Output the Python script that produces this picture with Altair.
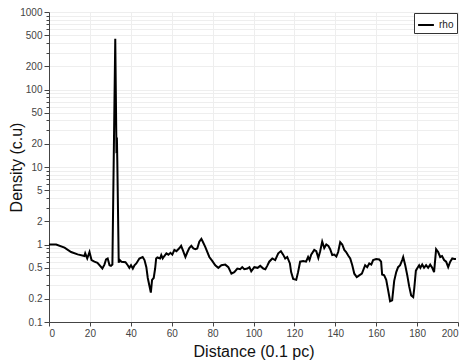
import altair as alt
import pandas as pd

dist = [0, 3.5, 7.6, 10.8, 14.0, 17.3, 17.7, 18.7, 19.8, 20.8, 22.2, 23.7, 26.1, 27.1, 27.9, 28.7,
        29.6, 30.3, 31.0, 32.4, 33.0, 33.2, 33.4, 34.1, 34.4, 35.4, 37.4, 38.5, 39.3, 40.1, 41.0,
        41.8, 42.7, 44.2, 45.8, 46.7, 47.6, 48.3, 49.8, 50.4, 51.2, 51.9, 52.4, 53.0, 54.3,
        54.9, 55.6, 56.4, 57.4, 58.4, 59.4, 60.3, 61.3, 62.3, 63.8, 64.6, 65.4, 66.7, 67.7,
        68.6, 69.6, 70.6, 71.6, 72.5, 73.5, 74.5, 75.1, 76.4, 78.4, 79.9, 81.3, 82.8, 84.3,
        86.2, 87.7, 89.2, 90.6, 92.1, 93.5, 94.5, 95.5, 97.0, 98.0, 98.9, 100.4, 102.0, 103.3,
        104.8, 105.8, 106.7, 107.7, 109.2, 110.6, 112.1, 113.4, 114.5, 115.5, 116.5, 117.8,
        118.4, 119.4, 120.9, 121.8, 122.8, 124.3, 125.7, 126.7, 127.4, 128.2, 129.7, 130.7,
        131.7, 132.6, 133.6, 134.6, 135.6, 136.6, 137.5, 138.5, 139.5, 140.5, 141.4, 142.4,
        143.4, 144.4, 145.3, 146.3, 147.3, 148.3, 149.3, 150.5, 151.7, 153.0, 154.6, 155.6,
        156.6, 157.6, 158.5, 160.0, 161.5, 162.4, 162.9, 163.9, 164.9, 165.8, 166.8, 167.8,
        168.8, 169.8, 170.7, 171.7, 172.7, 173.2, 174.2, 175.2, 176.1, 177.1, 178.1, 178.6,
        179.4, 180.0, 181.0, 181.6, 182.5, 183.4, 184.4, 185.4, 186.4, 187.4, 188.3, 189.3,
        190.3, 191.3, 192.2, 193.2, 194.2, 195.2, 196.2, 197.2, 198.2, 199.0]
rho = [1.0, 1.0, 0.91, 0.80, 0.745, 0.71, 0.77, 0.66, 0.80, 0.63, 0.60, 0.58, 0.49, 0.55, 0.64, 0.66,
       0.54, 0.53, 0.55, 450, 15, 24, 12, 0.58, 0.64, 0.60, 0.59, 0.54, 0.50, 0.54, 0.49,
       0.54, 0.57, 0.66, 0.69, 0.63, 0.51, 0.37, 0.24, 0.35, 0.37, 0.49, 0.66, 0.68, 0.66,
       0.73, 0.66, 0.71, 0.77, 0.74, 0.78, 0.74, 0.85, 0.82, 0.90, 0.96, 0.85, 0.69, 0.80,
       0.90, 0.96, 0.89, 0.87, 0.89, 1.09, 1.18, 1.10, 0.93, 0.69, 0.61, 0.54, 0.50, 0.54,
       0.55, 0.51, 0.42, 0.44, 0.49, 0.48, 0.51, 0.48, 0.49, 0.51, 0.45, 0.51, 0.50, 0.53,
       0.49, 0.48, 0.53, 0.60, 0.66, 0.63, 0.77, 0.82, 0.74, 0.66, 0.69, 0.57,
       0.44, 0.36, 0.35, 0.44, 0.60, 0.61, 0.60, 0.69, 0.63, 0.74, 0.85, 0.82,
       0.67, 0.82, 1.09, 0.90, 1.0, 0.96, 0.87, 0.73, 0.74, 0.70, 0.80, 1.07,
       1.0, 0.85, 0.80, 0.72, 0.66, 0.54, 0.42, 0.38, 0.40, 0.42, 0.54, 0.51,
       0.57, 0.55, 0.63, 0.65, 0.64, 0.60, 0.41, 0.40, 0.35, 0.26, 0.185, 0.19,
       0.34, 0.44, 0.51, 0.54, 0.63, 0.69, 0.54, 0.40, 0.29, 0.22, 0.21, 0.27,
       0.46, 0.49, 0.54, 0.50, 0.55, 0.50, 0.54, 0.50, 0.55, 0.50, 0.44, 0.87,
       0.80, 0.69, 0.71, 0.63, 0.60, 0.51, 0.60, 0.66, 0.65, 0.65]

major_y = [0.1, 0.2, 0.5, 1, 2, 5, 10, 20, 50, 100, 200, 500, 1000]
all_y = [m * 10 ** e if e >= 0 else m / 10 ** (-e) for e in [-1, 0, 1, 2] for m in range(1, 10)] + [1000]
all_y = [round(v, 6) for v in all_y]
x_ticks = [0, 20, 40, 60, 80, 100, 120, 140, 160, 180, 200]

df = pd.DataFrame({"dist": dist, "rho": rho, "series": ["rho"] * len(dist)})

major_list = "[" + ",".join(str(v) for v in major_y) + "]"
is_major = f"indexof({major_list}, datum.value) >= 0"

FONT = "Liberation Sans"

chart = alt.Chart(df).mark_line(strokeWidth=2, interpolate="linear", clip=True).encode(
    x=alt.X("dist:Q", scale=alt.Scale(domain=[0, 200], nice=False, zero=False),
            axis=alt.Axis(values=x_ticks, title="Distance (0.1 pc)", titleFontSize=16,
                          titleFontWeight="normal", titleColor="#111", titlePadding=5,
                          labelFontSize=10, labelColor="#444", tickSize=4, tickColor="#444",
                          domainColor="#444", gridColor="#eeeeee", labelPadding=2)),
    y=alt.Y("rho:Q", scale=alt.Scale(type="log", domain=[0.1, 1000], nice=False),
            axis=alt.Axis(values=all_y, title="Density (c.u)", titleFontSize=16,
                          titleFontWeight="normal", titleColor="#111",
                          titleX=-25, titleY=155, titleAngle=-90, titleAlign="center",
                          titleBaseline="bottom",
                          labelFontSize=10, labelColor="#444",
                          labelExpr=f"({is_major}) ? format(datum.value, '~g') : ''",
                          tickSize={"condition": {"test": is_major, "value": 5}, "value": 3},
                          tickColor="#444", domainColor="#444", gridColor="#eeeeee",
                          labelPadding=2)),
    color=alt.Color("series:N", scale=alt.Scale(range=["black"]),
                    legend=alt.Legend(title=None, orient="top-right", offset=1, padding=3,
                                      strokeColor="#333", fillColor="white",
                                      symbolType="stroke", symbolStrokeWidth=2, symbolSize=250,
                                      labelFontSize=10, labelFont=FONT, labelColor="#222",
                                      cornerRadius=0)),
).properties(
    width=409, height=310,
    autosize=alt.AutoSizeParams(type="none"),
    padding={"left": 49, "top": 12, "right": 16, "bottom": 41},
).configure_axis(
    labelFont=FONT, titleFont=FONT
).configure_view(stroke=None)

chart.save("out.html", embed_options={"renderer": "svg", "actions": False})
